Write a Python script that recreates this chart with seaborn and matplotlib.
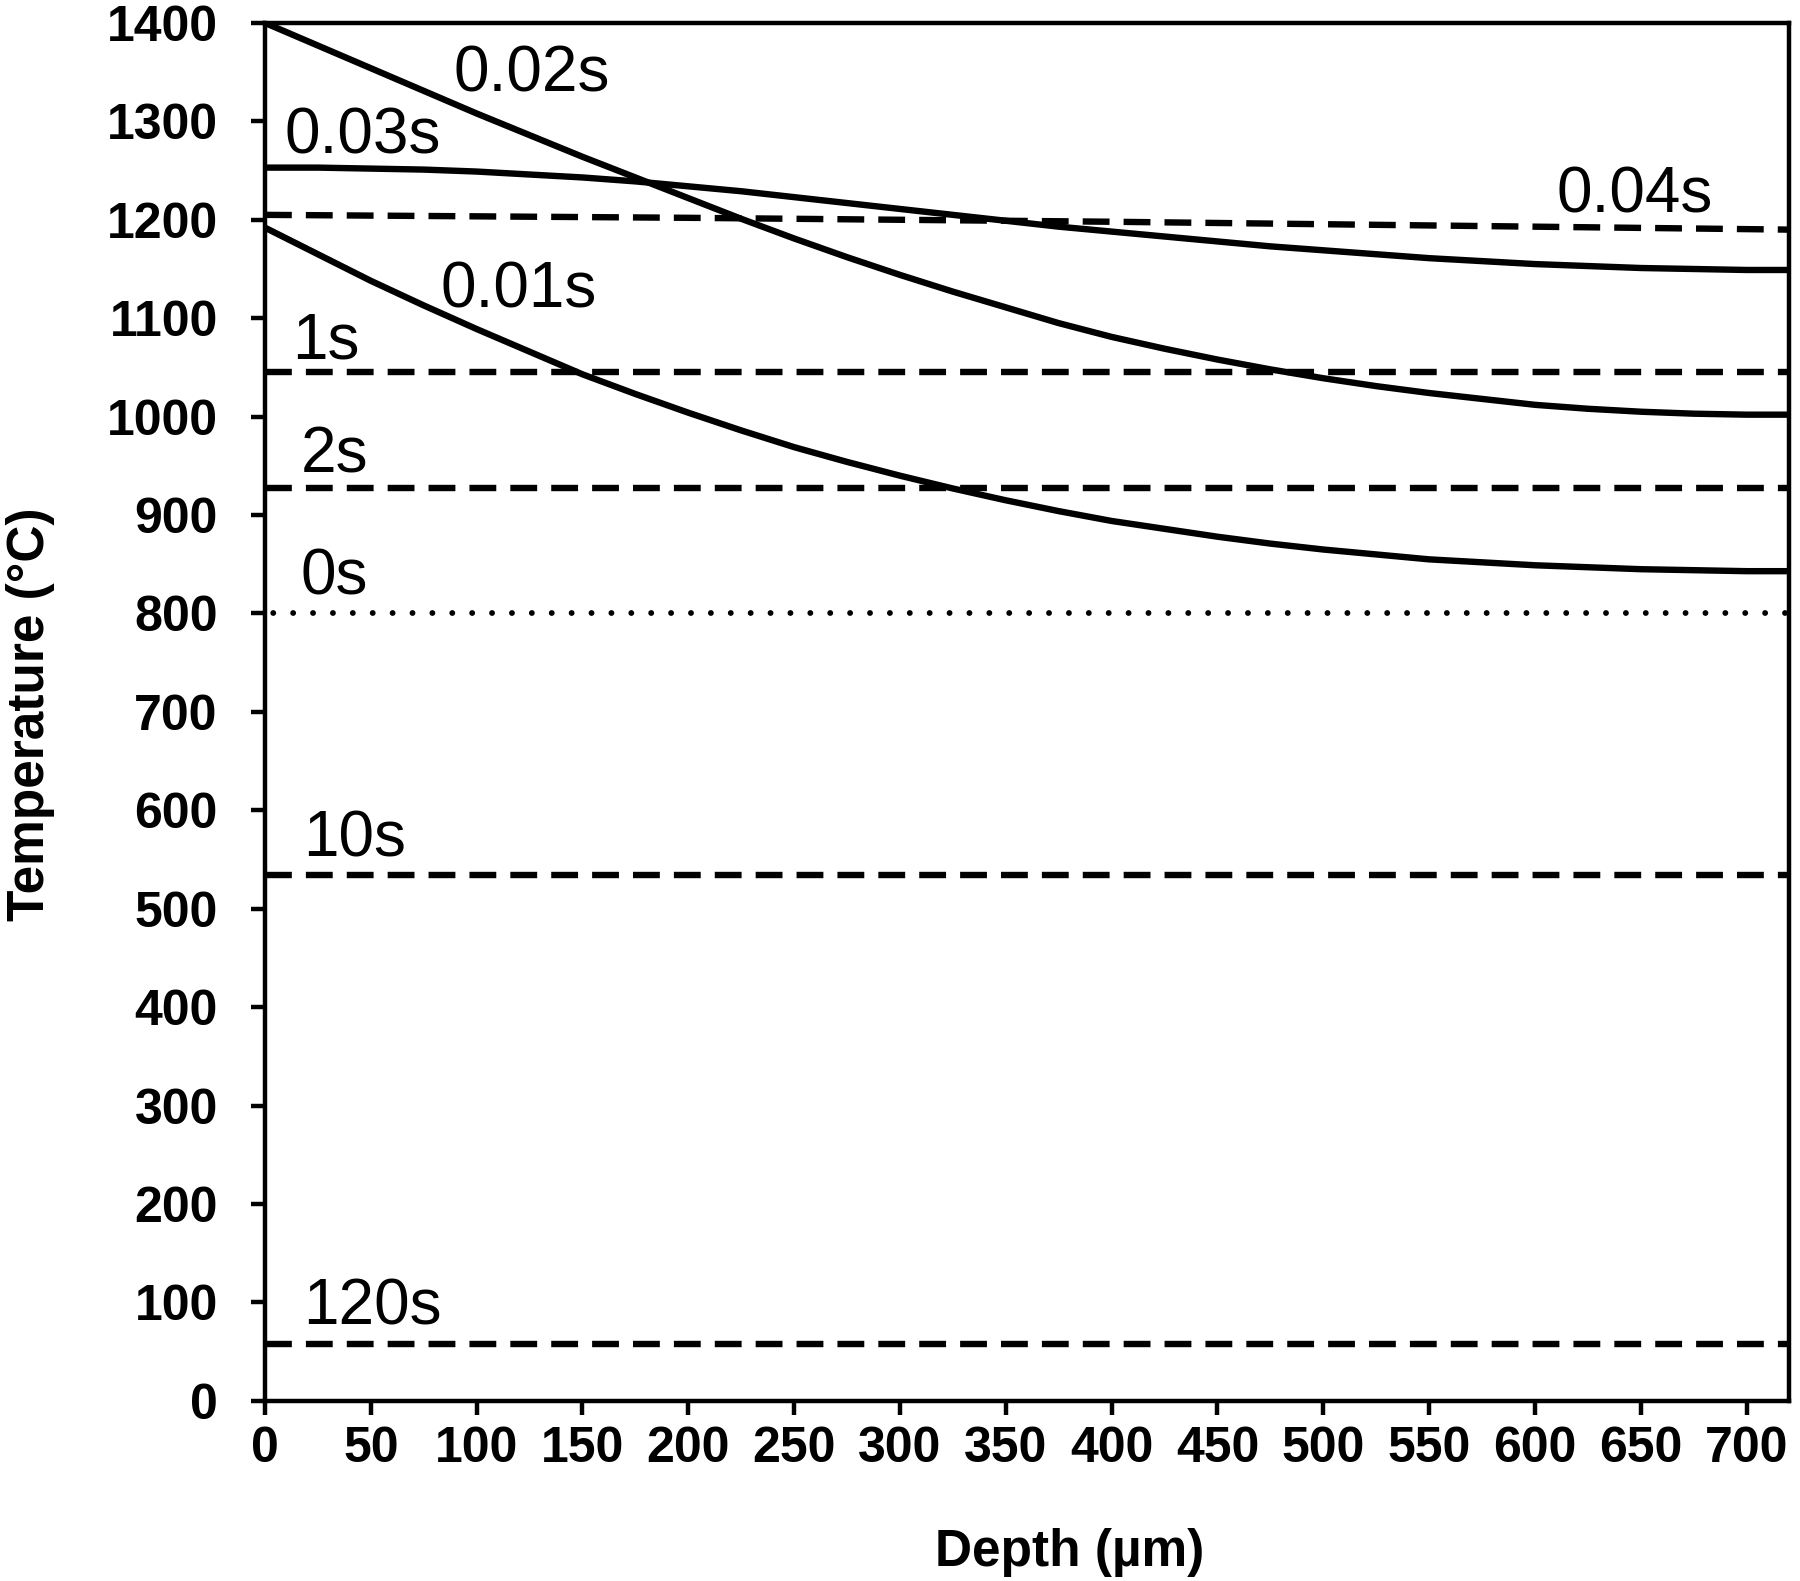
import numpy as np
import pandas as pd
import matplotlib
matplotlib.use("Agg")
import matplotlib.pyplot as plt
import seaborn as sns

# depth grid for the curved profiles (um)
depth = [0, 25, 50, 75, 100, 125, 150, 175, 200, 225, 250, 275, 300, 325, 350,
         375, 400, 425, 450, 475, 500, 525, 550, 575, 600, 625, 650, 675, 700, 720]

t_001 = [1192, 1165, 1138, 1113, 1089, 1066, 1043, 1023, 1004, 986, 969, 954, 940, 927, 915,
         904, 894, 886, 878, 871, 865, 860, 855, 852, 849, 847, 845, 844, 843, 843]
t_002 = [1400, 1377, 1354, 1331, 1308, 1286, 1264, 1243, 1222, 1201, 1181, 1162, 1144, 1127, 1111,
         1095, 1081, 1069, 1058, 1048, 1039, 1031, 1024, 1018, 1012, 1008, 1005, 1003, 1002, 1002]
t_003 = [1253, 1253, 1252, 1251, 1249, 1246, 1243, 1239, 1234, 1229, 1223, 1217, 1211, 1205, 1199,
         1193, 1188, 1183, 1178, 1173, 1169, 1165, 1161, 1158, 1155, 1153, 1151, 1150, 1149, 1149]

# near-uniform profiles
depth_004 = [0, 200, 400, 600, 720]
t_004 = [1205, 1202, 1198, 1193, 1190]
depth_flat = [0, 720]
t_1s = [1045, 1045]
t_2s = [928, 928]
t_0s = [800, 800]
t_10s = [534, 534]
t_120s = [58, 58]

# label positions (depth, temperature)
labels = ["0.02s", "0.03s", "0.04s", "0.01s", "1s", "2s", "0s", "10s", "120s"]
label_x = [89, 9, 610, 83, 13, 17, 17, 18, 18]
label_y = [1330, 1267, 1207, 1111, 1059, 943, 819, 553, 78]

sns.set_style("ticks")
plt.rcParams["font.family"] = ["Liberation Sans", "DejaVu Sans"]
plt.rcParams["text.color"] = "black"
plt.rcParams["axes.labelcolor"] = "black"
plt.rcParams["xtick.color"] = "black"
plt.rcParams["ytick.color"] = "black"

fig = plt.figure(figsize=(18, 15.81), dpi=100)
ax = fig.add_axes([0.1472, 0.1139, 0.8467, 0.8716])

solid = dict(color="black", linewidth=4.6, solid_capstyle="butt")
dash = dict(color="black", linewidth=4.6, linestyle=(0, (4.2, 2.2)), dash_capstyle="butt")

sns.lineplot(x=depth, y=t_001, ax=ax, **solid)
sns.lineplot(x=depth, y=t_002, ax=ax, **solid)
sns.lineplot(x=depth, y=t_003, ax=ax, **solid)
sns.lineplot(x=depth_004, y=t_004, ax=ax, **dash)
sns.lineplot(x=depth_flat, y=t_1s, ax=ax, **dash)
sns.lineplot(x=depth_flat, y=t_2s, ax=ax, **dash)
sns.lineplot(x=depth_flat, y=t_10s, ax=ax, **dash)
sns.lineplot(x=depth_flat, y=t_120s, ax=ax, **dash)
sns.lineplot(x=depth_flat, y=t_0s, ax=ax, color="black", linewidth=4.2,
             linestyle=(2, (0.01, 3.4)), dash_capstyle="round")

for lab, lx, ly in zip(labels, label_x, label_y):
    ax.text(lx, ly, lab, fontsize=46, ha="left", va="baseline")

ax.set_xlim(0, 720)
ax.set_ylim(0, 1400)
ax.set_xticks(range(0, 701, 50))
ax.set_yticks(range(0, 1401, 100))

for s in ax.spines.values():
    s.set_linewidth(3.2)
    s.set_color("black")
ax.tick_params(direction="out", length=10, width=3.2, labelsize=36)
ax.tick_params(axis="y", pad=24)
ax.tick_params(axis="x", pad=8)
for t in ax.get_xticklabels() + ax.get_yticklabels():
    t.set_fontweight("bold")

ax.set_xlabel("Depth (µm)", fontsize=37, fontweight="bold")
ax.set_ylabel("Temperature (°C)", fontsize=37, fontweight="bold")
ax.xaxis.set_label_coords(0.528, -0.092)
ax.yaxis.set_label_coords(-0.138, 0.498)

fig.savefig("out.png", dpi=100)
